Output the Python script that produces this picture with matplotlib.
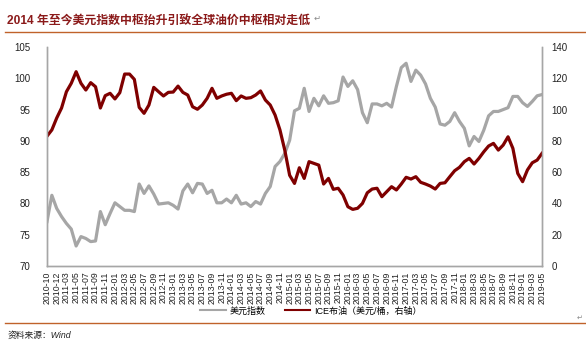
import pandas as pd
import matplotlib
matplotlib.use("Agg")
import matplotlib.pyplot as plt
from matplotlib.lines import Line2D

# monthly, 2010-10 .. 2019-05 (2011-02 absent in the source)
months = [d.strftime("%Y-%m") for d in pd.date_range("2010-10-01", "2019-05-01", freq="MS")]
months.remove("2011-02")

usd_index = [
    77.1, 81.3, 79.2, 77.9, 76.8, 75.9, 73.2, 74.7, 74.4, 73.9,
    74.0, 78.7, 76.6, 78.4, 80.1, 79.5, 78.9, 78.9, 78.7, 83.1,
    81.6, 82.8, 81.5, 79.9, 80.0, 80.1, 79.7, 79.1, 82.0, 83.1,
    81.7, 83.2, 83.1, 81.6, 82.1, 80.1, 80.1, 80.7, 80.1, 81.3,
    79.9, 80.1, 79.5, 80.3, 79.9, 81.6, 82.7, 85.9, 86.7, 88.0,
    90.1, 94.8, 95.2, 98.4, 94.7, 96.8, 95.6, 97.2, 96.0, 96.1,
    96.4, 100.2, 98.7, 99.6, 98.2, 94.5, 92.9, 95.9, 95.9, 95.6,
    96.0, 95.4, 98.7, 101.7, 102.4, 99.5, 101.3, 100.5, 99.1, 96.8,
    95.4, 92.7, 92.5, 93.1, 94.5, 93.1, 92.0, 89.2, 90.7, 89.9,
    91.7, 94.0, 94.7, 94.7, 95.0, 95.3, 97.1, 97.1, 96.1, 95.5,
    96.3, 97.2, 97.4,
]
brent = [
    83.0, 87.0, 94.6, 101.0, 111.4, 116.8, 124.2, 116.8, 112.5, 117.2,
    114.6, 101.0, 108.9, 110.4, 106.8, 110.8, 122.7, 122.7, 119.3, 101.4,
    97.6, 102.9, 114.2, 111.4, 108.7, 111.0, 111.2, 115.0, 111.0, 109.3,
    101.8, 100.2, 102.9, 107.2, 113.6, 107.2, 108.7, 109.8, 110.4, 105.7,
    108.7, 107.2, 107.6, 109.3, 111.9, 106.1, 102.9, 96.5, 87.0, 74.0,
    58.0, 52.8, 62.8, 56.0, 66.7, 65.6, 64.5, 52.4, 56.0, 49.0,
    49.7, 45.4, 37.9, 36.2, 36.9, 40.0, 46.8, 49.2, 49.7, 44.3,
    47.5, 50.7, 48.6, 52.4, 56.7, 55.6, 57.1, 53.5, 52.4, 51.1,
    49.2, 52.8, 53.2, 57.1, 60.9, 63.1, 66.7, 68.8, 65.2, 68.8,
    73.0, 76.7, 78.4, 74.1, 77.3, 82.6, 75.2, 59.2, 53.9, 61.4,
    66.0, 67.7, 72.0,
]

plt.rcParams["font.family"] = ["Liberation Sans", "Noto Sans CJK SC", "DejaVu Sans"]

GRAY = "#A6A6A6"
RED = "#7F0000"
ORANGE = "#C0622A"

fig = plt.figure(figsize=(5.86, 3.56), dpi=100)
ax = fig.add_axes([47 / 586, 1 - 266 / 356, (542 - 47) / 586, (266 - 47) / 356])
ax2 = ax.twinx()

x = range(len(months))
ax.plot(x, usd_index, color=GRAY, lw=2.3, solid_joinstyle="round")
ax2.plot(x, brent, color=RED, lw=2.3, solid_joinstyle="round")

ax.set_xlim(0, len(months) - 1)
ax.set_ylim(70, 105)
ax.set_yticks(range(70, 106, 5))
ax2.set_ylim(0, 140)
ax2.set_yticks(range(0, 141, 20))
ax.set_xticks(list(x)[::2])
ax.set_xticklabels(months[::2], rotation=90, fontsize=6.3)

for a in (ax, ax2):
    a.spines["top"].set_visible(False)
    for s in ("left", "right", "bottom"):
        a.spines[s].set_color(GRAY)
        a.spines[s].set_linewidth(1.0)
    a.tick_params(length=0, labelsize=7, colors="#222222")
ax.tick_params(axis="y", pad=12)
ax2.tick_params(axis="y", pad=7)
ax.tick_params(axis="x", pad=4, labelsize=6.3)

handles = [Line2D([], [], color=GRAY, lw=1.5), Line2D([], [], color=RED, lw=1.5)]
fig.legend(handles, ["美元指数", "ICE布油（美元/桶，右轴）"], loc="center",
           bbox_to_anchor=(311 / 586, 1 - 311 / 356), ncol=2, frameon=False,
           fontsize=6.5, handlelength=2.8, handletextpad=0.4, columnspacing=2.2)

fig.text(7 / 586, 1 - 21 / 356, "2014 年至今美元指数中枢抬升引致全球油价中枢相对走低",
         fontsize=8.6, fontweight="bold", color="#8B1A1A", va="center", ha="left")
fig.text(314 / 586, 1 - 19 / 356, "↵", fontsize=6, color="#888888", va="center")
fig.add_artist(Line2D([5 / 586, 1.0], [1 - 31.5 / 356] * 2, color=ORANGE, lw=1.0))
fig.add_artist(Line2D([5 / 586, 1.0], [1 - 322.5 / 356] * 2, color=ORANGE, lw=1.0))
fig.text(8 / 586, 1 - 335 / 356, "资料来源：Wind", fontsize=6.3, style="italic",
         color="#222222", va="center", ha="left")
fig.text(577 / 586, 1 - 318 / 356, "↵", fontsize=5, color="#888888", va="center")

fig.savefig("out.png", dpi=100)
